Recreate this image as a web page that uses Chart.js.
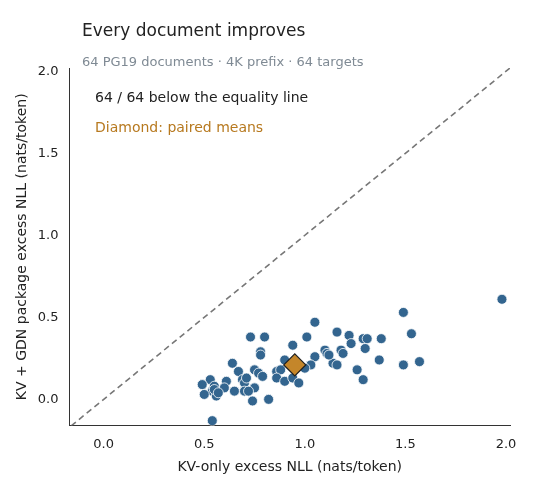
<!DOCTYPE html><html><head><script src="https://cdn.jsdelivr.net/npm/chart.js@4"></script>
<style>body{margin:0;background:#fff}#w{width:536px;height:486px;position:relative}</style></head><body><div id="w"><canvas id="c" width="536" height="486"></canvas></div>
<script>
const xs=[1.98,1.49,1.05,0.73,0.80,1.01,1.16,1.22,1.29,1.31,1.38,1.53,1.23,1.30,0.94,0.78,0.78,1.10,1.11,1.18,1.19,1.05,1.37,0.64,0.90,1.03,1.00,1.14,1.16,1.49,1.57,1.26,1.29,0.67,0.75,0.77,0.79,0.86,0.88,0.86,0.90,0.94,0.97,0.61,0.53,0.49,0.55,0.60,0.69,0.70,0.75,0.65,0.70,0.72,0.54,0.50,0.56,0.74,0.82,0.54,0.55,0.57,0.71,1.12];
const ys=[0.61,0.53,0.47,0.38,0.38,0.38,0.41,0.39,0.37,0.37,0.37,0.40,0.34,0.31,0.33,0.29,0.27,0.30,0.28,0.30,0.28,0.26,0.24,0.22,0.24,0.21,0.19,0.22,0.21,0.21,0.23,0.18,0.12,0.17,0.18,0.16,0.14,0.17,0.18,0.13,0.11,0.13,0.10,0.11,0.12,0.09,0.08,0.07,0.12,0.10,0.07,0.05,0.05,0.05,0.05,0.03,0.02,-0.01,0.00,-0.13,0.06,0.04,0.13,0.27];
const meanX=0.95, meanY=0.21;
const ticks=[0,0.5,1.0,1.5,2.0];
const ann={id:'ann',afterDraw(ch){const c=ch.ctx;c.save();c.font='17px "DejaVu Sans"';c.fillStyle='#222';c.textBaseline='alphabetic';c.fillText('Every document improves',82,36);
c.font='13px "DejaVu Sans"';c.fillStyle='#7f8a94';c.fillText('64 PG19 documents · 4K prefix · 64 targets',82,66);
c.font='14px "DejaVu Sans"';c.fillStyle='#222';c.fillText('64 / 64 below the equality line',95,102);c.fillStyle='#b7791f';c.fillText('Diamond: paired means',95,132);c.restore();}};
new Chart(document.getElementById('c'),{type:'scatter',plugins:[ann],data:{datasets:[
{data:[{x:-0.2,y:-0.2},{x:2.1,y:2.1}],type:'line',borderColor:'#777',borderDash:[6,4],borderWidth:1.6,pointRadius:0,order:3},
{data:xs.map((x,i)=>({x,y:ys[i]})),backgroundColor:'#33658f',borderColor:'#fff',borderWidth:0.8,pointRadius:5,order:2},
{data:[{x:meanX,y:meanY}],pointStyle:'rectRot',pointRadius:11,backgroundColor:'#c4862a',borderColor:'#222',borderWidth:1.3,order:1}]},
options:{responsive:false,animation:false,devicePixelRatio:1,layout:{padding:{top:68,right:26,left:10,bottom:6}},
plugins:{legend:{display:false},tooltip:{enabled:false}},
scales:{x:{min:-0.17,max:2.02,grid:{display:false,drawTicks:true},border:{color:'#333'},afterBuildTicks:a=>{a.ticks=ticks.map(v=>({value:v}))},ticks:{color:'#222',font:{size:13,family:'DejaVu Sans'},callback:v=>v.toFixed(1)},title:{display:true,text:'KV-only excess NLL (nats/token)',color:'#222',font:{size:14,family:'DejaVu Sans'}}},
y:{min:-0.16,max:2.02,grid:{display:false},border:{color:'#333'},afterBuildTicks:a=>{a.ticks=ticks.map(v=>({value:v}))},ticks:{color:'#222',font:{size:13,family:'DejaVu Sans'},callback:v=>v.toFixed(1)},title:{display:true,text:'KV + GDN package excess NLL (nats/token)',color:'#222',font:{size:14,family:'DejaVu Sans'}}}}}});
</script></body></html>
